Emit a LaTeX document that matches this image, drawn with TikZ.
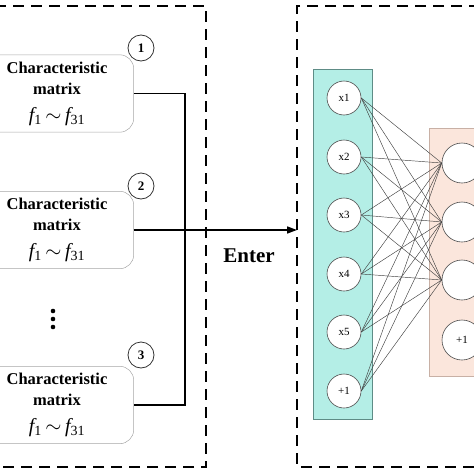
\documentclass[tikz,border=0pt]{standalone}
\usepackage{fontspec}
\setmainfont{Liberation Serif}
\usetikzlibrary{arrows.meta}

\definecolor{inputfill}{HTML}{B4EEE6}
\definecolor{inputline}{HTML}{5E8C86}
\definecolor{hiddenfill}{HTML}{FBE6DC}
\definecolor{hiddenline}{HTML}{C8B0A5}

\begin{document}
\begin{tikzpicture}[x=1pt,y=-1pt,
    frame/.style={dash pattern=on 11pt off 7pt, line width=1.7pt},
    wire/.style={line width=1.6pt},
    featbox/.style={minimum width=153pt, minimum height=77pt, align=center, inner sep=0pt,
        font=\fontsize{16.5}{21}\selectfont\bfseries},
    boxline/.style={draw=black!35, line width=0.5pt, rounded corners=14pt},
    tag/.style={circle, draw=black!80, line width=0.8pt, minimum size=26pt, inner sep=0pt,
        font=\fontsize{13}{13}\selectfont\bfseries},
    neuron/.style={circle, draw=black!70, fill=white, line width=0.6pt, minimum size=34pt,
        inner sep=0pt, font=\fontsize{11}{11}\selectfont},
    link/.style={draw=black!75, line width=0.45pt}]
    \useasboundingbox (0,0) rectangle (474,474);

    % dashed frames
    \draw[frame] (-5,6) -- (206,6) -- (206,467) -- (-5,467);
    \draw[frame] (480,6) -- (297,6) -- (297,467) -- (480,467);

    % feature boxes
    \foreach \name/\y in {m1/93.5,m2/230,m3/405}{
        \node[featbox] (\name) at (57,\y)
            {Characteristic\\ matrix\\[6pt] \fontsize{20}{21}\selectfont\mdseries{\itshape f}\textsubscript{1}$\,\sim\,${\itshape f}\textsubscript{31}};
        \draw[boxline] (\name.north west) -- (\name.north east) -- (\name.south east) -- (\name.south west);
    }
    % tags
    \node[tag] (t1) at (141,48) {1};
    \node[tag] (t2) at (141,186) {2};
    \node[tag] (t3) at (141,355) {3};
    % dots
    \foreach \y in {311,319,327}
        \fill (53,\y) circle (2.3);

    % connectors
    \coordinate (entry) at (297,230);
    \draw[wire] (m1.east) -- ++(51,0) |- (m3.east);
    \draw[wire,-{Triangle[length=10pt,width=7pt]}] (m2.east) -- (entry);
    \node[font=\fontsize{21}{21}\selectfont\bfseries] (enter) at (249,256) {Enter};

    % layers
    \draw[fill=inputfill, draw=inputline, line width=0.7pt] (313,69) rectangle (372,419);
    \draw[fill=hiddenfill, draw=hiddenline, line width=0.7pt] (429,128) rectangle (480,376);

    % input neurons
    \foreach \name/\lab/\y in {x1/x1/98,x2/x2/157,x3/x3/215,x4/x4/274,x5/x5/332,b1/+1/391}
        \node[neuron] (\name) at (344,\y) {\lab};
    % hidden neurons
    \foreach \i/\y in {1/163,2/222,3/280}
        \node[neuron, minimum size=40pt] (h\i) at (462,\y) {};
    \node[neuron, minimum size=40pt] (hb) at (462,340) {+1};

    % links
    \foreach \a in {x1,x2,x3,x4,x5,b1}
        \foreach \b in {h1,h2,h3}
            \draw[link] (\a.east) -- (\b.west);
\end{tikzpicture}
\end{document}
